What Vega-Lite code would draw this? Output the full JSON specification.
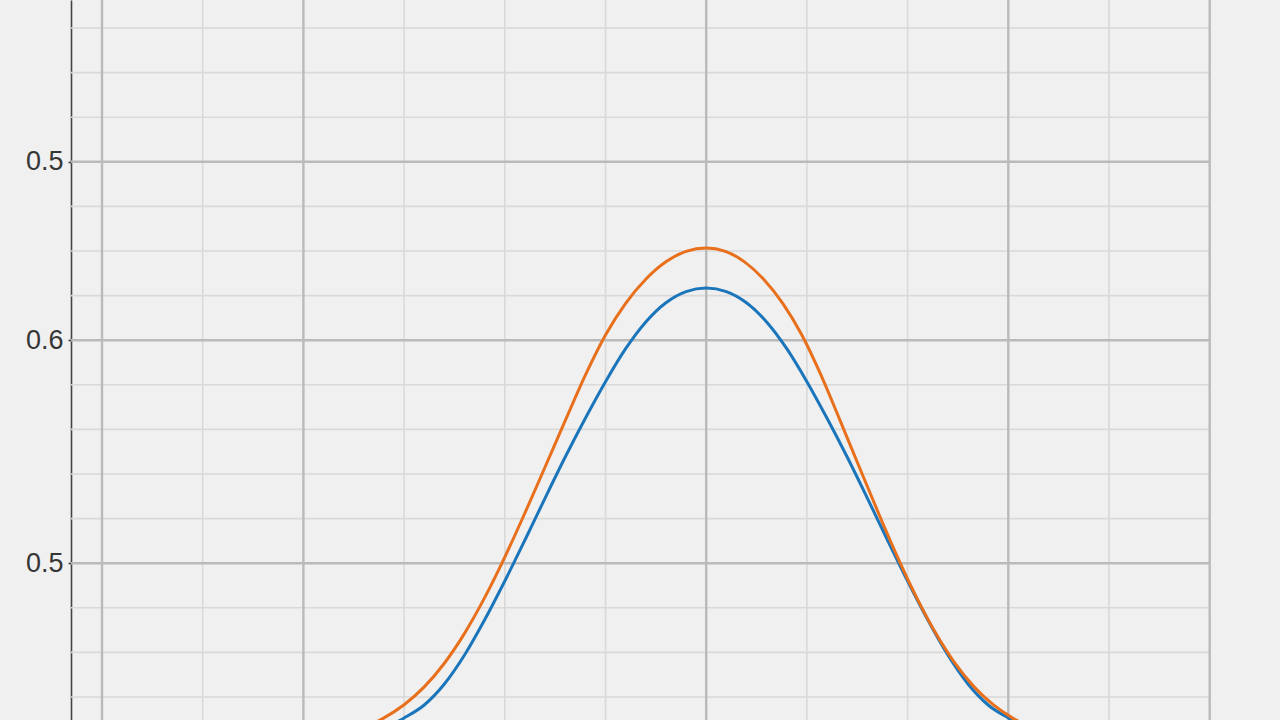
{
  "$schema": "https://vega.github.io/schema/vega-lite/v6.json",
  "width": 1139,
  "height": 720,
  "autosize": "none",
  "padding": {"left": 71, "top": 0, "right": 70, "bottom": 0},
  "background": "#f0f0f0",
  "config": {"view": {"stroke": null, "fill": "#f0f0f0"}},
  "datasets": {
    "vgrid": [
      {"x": 0, "kind": "major"}, {"x": 1, "kind": "minor"}, {"x": 2, "kind": "major"},
      {"x": 3, "kind": "minor"}, {"x": 4, "kind": "minor"}, {"x": 5, "kind": "minor"},
      {"x": 6, "kind": "major"}, {"x": 7, "kind": "minor"}, {"x": 8, "kind": "minor"},
      {"x": 9, "kind": "major"}, {"x": 10, "kind": "minor"}, {"x": 11, "kind": "major"}
    ],
    "hgrid": [
      {"y": 0, "kind": "minor"}, {"y": 1, "kind": "minor"}, {"y": 2, "kind": "minor"},
      {"y": 3, "kind": "major"}, {"y": 4, "kind": "minor"}, {"y": 5, "kind": "minor"},
      {"y": 6, "kind": "minor"}, {"y": 7, "kind": "minor"}, {"y": 8, "kind": "major"},
      {"y": 9, "kind": "minor"}, {"y": 10, "kind": "minor"}, {"y": 11, "kind": "minor"},
      {"y": 12, "kind": "major"}, {"y": 13, "kind": "minor"}, {"y": 14, "kind": "minor"},
      {"y": 15, "kind": "minor"}
    ],
    "curves": [
      {"series": "blue", "x": 2.4, "y": -1.02},
      {"series": "blue", "x": 2.6, "y": -0.88},
      {"series": "blue", "x": 2.8, "y": -0.70},
      {"series": "blue", "x": 3.0, "y": -0.47},
      {"series": "blue", "x": 3.2, "y": -0.18},
      {"series": "blue", "x": 3.4, "y": 0.29},
      {"series": "blue", "x": 3.6, "y": 0.94},
      {"series": "blue", "x": 3.8, "y": 1.73},
      {"series": "blue", "x": 4.0, "y": 2.60},
      {"series": "blue", "x": 4.2, "y": 3.52},
      {"series": "blue", "x": 4.4, "y": 4.46},
      {"series": "blue", "x": 4.6, "y": 5.38},
      {"series": "blue", "x": 4.8, "y": 6.25},
      {"series": "blue", "x": 5.0, "y": 7.07},
      {"series": "blue", "x": 5.2, "y": 7.81},
      {"series": "blue", "x": 5.4, "y": 8.41},
      {"series": "blue", "x": 5.6, "y": 8.84},
      {"series": "blue", "x": 5.8, "y": 9.09},
      {"series": "blue", "x": 6.0, "y": 9.17},
      {"series": "blue", "x": 6.2, "y": 9.09},
      {"series": "blue", "x": 6.4, "y": 8.84},
      {"series": "blue", "x": 6.6, "y": 8.41},
      {"series": "blue", "x": 6.8, "y": 7.81},
      {"series": "blue", "x": 7.0, "y": 7.07},
      {"series": "blue", "x": 7.2, "y": 6.25},
      {"series": "blue", "x": 7.4, "y": 5.38},
      {"series": "blue", "x": 7.6, "y": 4.46},
      {"series": "blue", "x": 7.8, "y": 3.52},
      {"series": "blue", "x": 8.0, "y": 2.60},
      {"series": "blue", "x": 8.2, "y": 1.73},
      {"series": "blue", "x": 8.4, "y": 0.94},
      {"series": "blue", "x": 8.6, "y": 0.29},
      {"series": "blue", "x": 8.8, "y": -0.18},
      {"series": "blue", "x": 9.0, "y": -0.47},
      {"series": "blue", "x": 9.2, "y": -0.70},
      {"series": "blue", "x": 9.4, "y": -0.88},
      {"series": "blue", "x": 9.6, "y": -1.02},
      {"series": "orange", "x": 2.4, "y": -0.858},
      {"series": "orange", "x": 2.6, "y": -0.688},
      {"series": "orange", "x": 2.8, "y": -0.468},
      {"series": "orange", "x": 3.0, "y": -0.173},
      {"series": "orange", "x": 3.2, "y": 0.227},
      {"series": "orange", "x": 3.4, "y": 0.757},
      {"series": "orange", "x": 3.6, "y": 1.427},
      {"series": "orange", "x": 3.8, "y": 2.227},
      {"series": "orange", "x": 4.0, "y": 3.137},
      {"series": "orange", "x": 4.2, "y": 4.127},
      {"series": "orange", "x": 4.4, "y": 5.157},
      {"series": "orange", "x": 4.6, "y": 6.197},
      {"series": "orange", "x": 4.8, "y": 7.217},
      {"series": "orange", "x": 5.0, "y": 8.117},
      {"series": "orange", "x": 5.2, "y": 8.827},
      {"series": "orange", "x": 5.4, "y": 9.367},
      {"series": "orange", "x": 5.6, "y": 9.757},
      {"series": "orange", "x": 5.8, "y": 9.992},
      {"series": "orange", "x": 6.0, "y": 10.067},
      {"series": "orange", "x": 6.19, "y": 9.992},
      {"series": "orange", "x": 6.38, "y": 9.757},
      {"series": "orange", "x": 6.57, "y": 9.367},
      {"series": "orange", "x": 6.76, "y": 8.827},
      {"series": "orange", "x": 6.95, "y": 8.117},
      {"series": "orange", "x": 7.14, "y": 7.217},
      {"series": "orange", "x": 7.33, "y": 6.197},
      {"series": "orange", "x": 7.52, "y": 5.157},
      {"series": "orange", "x": 7.71, "y": 4.127},
      {"series": "orange", "x": 7.90, "y": 3.137},
      {"series": "orange", "x": 8.09, "y": 2.227},
      {"series": "orange", "x": 8.28, "y": 1.427},
      {"series": "orange", "x": 8.47, "y": 0.757},
      {"series": "orange", "x": 8.66, "y": 0.227},
      {"series": "orange", "x": 8.85, "y": -0.173},
      {"series": "orange", "x": 9.04, "y": -0.468},
      {"series": "orange", "x": 9.23, "y": -0.688},
      {"series": "orange", "x": 9.42, "y": -0.858}
    ]
  },
  "layer": [
    {
      "data": {"name": "vgrid"},
      "transform": [{"filter": "datum.kind == 'minor'"}],
      "mark": {"type": "rule", "color": "#d9d9d9", "strokeWidth": 1.6},
      "encoding": {
        "x": {"field": "x", "type": "quantitative", "scale": {"domain": [-0.308, 11.003], "nice": false, "zero": false}, "axis": null}
      }
    },
    {
      "data": {"name": "hgrid"},
      "transform": [{"filter": "datum.kind == 'minor'"}],
      "mark": {"type": "rule", "color": "#d9d9d9", "strokeWidth": 1.6},
      "encoding": {
        "y": {
          "field": "y", "type": "quantitative",
          "scale": {"domain": [-0.516, 15.628], "nice": false, "zero": false},
          "axis": {
            "values": [3, 8, 12],
            "labelExpr": "datum.value == 8 ? '0.6' : '0.5'",
            "grid": false, "title": null,
            "domainColor": "#444444", "domainWidth": 1.6,
            "tickColor": "#444444", "tickSize": 3, "tickWidth": 1.6,
            "labelFont": "Liberation Sans", "labelFontSize": 27,
            "labelColor": "#363636", "labelPadding": 5
          }
        }
      }
    },
    {
      "data": {"name": "vgrid"},
      "transform": [{"filter": "datum.kind == 'major'"}],
      "mark": {"type": "rule", "color": "#bababa", "strokeWidth": 2.4},
      "encoding": {
        "x": {"field": "x", "type": "quantitative", "axis": null}
      }
    },
    {
      "data": {"name": "hgrid"},
      "transform": [{"filter": "datum.kind == 'major'"}],
      "mark": {"type": "rule", "color": "#bababa", "strokeWidth": 2.4},
      "encoding": {
        "y": {
          "field": "y", "type": "quantitative",
          "axis": {
            "values": [3, 8, 12],
            "labelExpr": "datum.value == 8 ? '0.6' : '0.5'",
            "grid": false, "title": null,
            "domainColor": "#444444", "domainWidth": 1.6,
            "tickColor": "#444444", "tickSize": 3, "tickWidth": 1.6,
            "labelFont": "Liberation Sans", "labelFontSize": 27,
            "labelColor": "#363636", "labelPadding": 5
          }
        }
      }
    },
    {
      "data": {"name": "curves"},
      "transform": [{"filter": "datum.series == 'blue'"}],
      "mark": {"type": "line", "interpolate": "monotone", "strokeWidth": 3, "clip": true},
      "encoding": {
        "x": {"field": "x", "type": "quantitative", "axis": null},
        "y": {
          "field": "y", "type": "quantitative",
          "axis": {
            "values": [3, 8, 12],
            "labelExpr": "datum.value == 8 ? '0.6' : '0.5'",
            "grid": false, "title": null,
            "domainColor": "#444444", "domainWidth": 1.6,
            "tickColor": "#444444", "tickSize": 3, "tickWidth": 1.6,
            "labelFont": "Liberation Sans", "labelFontSize": 27,
            "labelColor": "#363636", "labelPadding": 5
          }
        },
        "color": {"field": "series", "type": "nominal", "scale": {"domain": ["blue", "orange"], "range": ["#1b75bb", "#e8701d"]}, "legend": null}
      }
    },
    {
      "data": {"name": "curves"},
      "transform": [{"filter": "datum.series == 'orange'"}],
      "mark": {"type": "line", "interpolate": "monotone", "strokeWidth": 3, "clip": true},
      "encoding": {
        "x": {"field": "x", "type": "quantitative", "axis": null},
        "y": {
          "field": "y", "type": "quantitative",
          "axis": {
            "values": [3, 8, 12],
            "labelExpr": "datum.value == 8 ? '0.6' : '0.5'",
            "grid": false, "title": null,
            "domainColor": "#444444", "domainWidth": 1.6,
            "tickColor": "#444444", "tickSize": 3, "tickWidth": 1.6,
            "labelFont": "Liberation Sans", "labelFontSize": 27,
            "labelColor": "#363636", "labelPadding": 5
          }
        },
        "color": {"field": "series", "type": "nominal", "legend": null}
      }
    }
  ]
}
